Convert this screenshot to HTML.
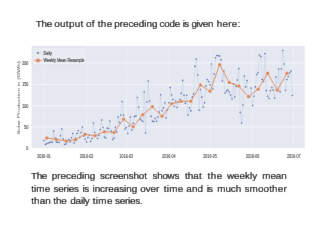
<!DOCTYPE html>
<html><head><meta charset="utf-8">
<style>
html,body{margin:0;padding:0;background:#fff;}
body{filter:url(#soft);width:320px;height:240px;overflow:hidden;position:relative;font-family:"Liberation Sans",sans-serif;color:#000;}
.t{position:absolute;left:0;width:320px;height:12px;white-space:nowrap;line-height:1;-webkit-text-stroke:0.2px #000;}
#title{top:18.6px;font-size:9.9px;}
.bl{font-size:9.9px;}
.w{position:absolute;top:0;transform-origin:0 0;}
svg{position:absolute;left:0;top:0;}
</style></head><body>
<svg width="0" height="0" style="position:absolute"><filter id="soft" x="0" y="0" width="100%" height="100%"><feConvolveMatrix order="3" kernelMatrix="0 1 0 1 12 1 0 1 0" divisor="16" edgeMode="duplicate"/></filter></svg>
<div class="t" id="title"><span class="w" style="left:35.80px;letter-spacing:-0.317px;transform:scaleX(1)">The</span><span class="w" style="left:54.20px;letter-spacing:0.335px;transform:scaleX(1)">output</span><span class="w" style="left:86.10px;letter-spacing:0.280px;transform:scaleX(1)">of</span><span class="w" style="left:97.70px;letter-spacing:0.417px;transform:scaleX(1)">the</span><span class="w" style="left:114.16px;letter-spacing:-0.015px;transform:scaleX(1)">preceding</span><span class="w" style="left:159.60px;letter-spacing:-0.264px;transform:scaleX(1)">code</span><span class="w" style="left:182.66px;letter-spacing:-0.587px;transform:scaleX(1)">is</span><span class="w" style="left:191.50px;letter-spacing:-0.418px;transform:scaleX(1)">given</span><span class="w" style="left:216.66px;letter-spacing:0.266px;transform:scaleX(1)">here:</span></div>
<svg width="320" height="240" viewBox="0 0 320 240">
<rect x="31.55" y="46" width="273.25" height="102.35" fill="#E5E8F1"/>
<g stroke="#fff" stroke-width="0.9" stroke-opacity="0.6"><line x1="31.55" y1="148.35" x2="304.8" y2="148.35"/><line x1="31.55" y1="127.02" x2="304.8" y2="127.02"/><line x1="31.55" y1="105.7" x2="304.8" y2="105.7"/><line x1="31.55" y1="84.38" x2="304.8" y2="84.38"/><line x1="31.55" y1="63.05" x2="304.8" y2="63.05"/><line x1="44" y1="46" x2="44" y2="148.35" stroke-opacity="0.35"/><line x1="86.54" y1="46" x2="86.54" y2="148.35" stroke-opacity="0.35"/><line x1="126.34" y1="46" x2="126.34" y2="148.35" stroke-opacity="0.35"/><line x1="168.88" y1="46" x2="168.88" y2="148.35" stroke-opacity="0.35"/><line x1="210.05" y1="46" x2="210.05" y2="148.35" stroke-opacity="0.35"/><line x1="252.59" y1="46" x2="252.59" y2="148.35" stroke-opacity="0.35"/><line x1="293.76" y1="46" x2="293.76" y2="148.35" stroke-opacity="0.35"/></g>
<path d="M44 140.5 L45.37 144.5 L46.74 143.8 L48.12 143 L49.49 142.5 L50.86 142.2 L52.23 142 L53.61 131 L54.98 138 L56.35 142 L57.72 142.2 L59.1 142.5 L60.47 135.8 L61.84 129 L63.21 139 L64.58 144.5 L65.96 144 L67.33 141.8 L68.7 139.5 L70.07 142 L71.45 137.8 L72.82 133.5 L74.19 143 L75.56 138.2 L76.94 133.5 L78.31 130.5 L79.68 137.5 L81.05 132.5 L82.42 127 L83.8 136 L85.17 139 L86.54 142 L87.91 137.5 L89.29 135 L90.66 141.5 L92.03 138.5 L93.4 123 L94.78 132.5 L96.15 135.5 L97.52 138.5 L98.89 135.5 L100.26 129.5 L101.64 120 L103.01 127.5 L104.38 137 L105.75 138 L107.13 128 L108.5 128.5 L109.87 121 L111.24 131 L112.62 139.5 L113.99 138 L115.36 127 L116.73 132 L118.1 117 L119.48 122.5 L120.85 115 L122.22 101.5 L123.59 115.2 L124.97 129 L126.34 127.5 L127.71 133.5 L129.08 126 L130.45 117 L131.83 130 L133.2 123.2 L134.57 116.5 L135.94 116 L137.32 97.5 L138.69 107 L140.06 119 L141.43 120.2 L142.81 121.5 L144.18 92 L145.55 133 L146.92 102 L148.29 81 L149.67 101 L151.04 116.4 L152.41 121.3 L153.78 121.6 L155.16 118.2 L156.53 121.2 L157.9 117.1 L159.27 112 L160.65 94.7 L162.02 110.7 L163.39 108 L164.76 102.7 L166.13 118 L167.51 110 L168.88 102.7 L170.25 87.6 L171.62 95 L173 99.5 L174.37 106.5 L175.74 101 L177.11 107.5 L178.49 102 L179.86 99.5 L181.23 93.4 L182.6 80.4 L183.97 95.2 L185.35 103.4 L186.72 95.2 L188.09 115 L189.46 107.8 L190.84 110.9 L192.21 97.1 L193.58 94 L194.95 66.4 L196.33 59 L197.7 75 L199.07 110.2 L200.44 89.6 L201.81 97.1 L203.19 107.1 L204.56 102.8 L205.93 85.9 L207.3 79.5 L208.68 81.5 L210.05 85 L211.42 64 L212.79 89 L214.17 74 L215.54 57.7 L216.91 55.5 L218.28 55.7 L219.65 56 L221.03 59.7 L222.4 81 L223.77 71 L225.14 93 L226.52 91 L227.89 90 L229.26 92 L230.63 95 L232.01 99 L233.38 83.7 L234.75 97 L236.12 86.4 L237.49 80 L238.87 68.5 L240.24 112.5 L241.61 123 L242.98 105 L244.36 76 L245.73 86.9 L247.1 80.6 L248.47 96 L249.84 97 L251.22 88.1 L252.59 105.6 L253.96 96.2 L255.33 86.9 L256.71 74.5 L258.08 72.5 L259.45 55 L260.82 56.5 L262.2 79.5 L263.57 81.5 L264.94 53.5 L266.31 90.6 L267.68 96.2 L269.06 98.5 L270.43 90.6 L271.8 87.5 L273.17 90 L274.55 98 L275.92 77 L277.29 89.8 L278.66 69 L280.04 92 L281.41 69 L282.78 50.5 L284.15 64 L285.52 90.5 L286.9 79.5 L288.27 76.5 L289.64 73 L291.01 71 L292.39 95.5" fill="none" stroke="#4C72B0" stroke-opacity="0.32" stroke-width="0.35"/>
<g fill="#4A66A2"><circle cx="44" cy="140.5" r="0.8"/><circle cx="45.37" cy="144.5" r="0.8"/><circle cx="46.74" cy="143.8" r="0.8"/><circle cx="48.12" cy="143" r="0.8"/><circle cx="49.49" cy="142.5" r="0.8"/><circle cx="50.86" cy="142.2" r="0.8"/><circle cx="52.23" cy="142" r="0.8"/><circle cx="53.61" cy="131" r="0.8"/><circle cx="54.98" cy="138" r="0.8"/><circle cx="56.35" cy="142" r="0.8"/><circle cx="57.72" cy="142.2" r="0.8"/><circle cx="59.1" cy="142.5" r="0.8"/><circle cx="60.47" cy="135.8" r="0.8"/><circle cx="61.84" cy="129" r="0.8"/><circle cx="63.21" cy="139" r="0.8"/><circle cx="64.58" cy="144.5" r="0.8"/><circle cx="65.96" cy="144" r="0.8"/><circle cx="67.33" cy="141.8" r="0.8"/><circle cx="68.7" cy="139.5" r="0.8"/><circle cx="70.07" cy="142" r="0.8"/><circle cx="71.45" cy="137.8" r="0.8"/><circle cx="72.82" cy="133.5" r="0.8"/><circle cx="74.19" cy="143" r="0.8"/><circle cx="75.56" cy="138.2" r="0.8"/><circle cx="76.94" cy="133.5" r="0.8"/><circle cx="78.31" cy="130.5" r="0.8"/><circle cx="79.68" cy="137.5" r="0.8"/><circle cx="81.05" cy="132.5" r="0.8"/><circle cx="82.42" cy="127" r="0.8"/><circle cx="83.8" cy="136" r="0.8"/><circle cx="85.17" cy="139" r="0.8"/><circle cx="86.54" cy="142" r="0.8"/><circle cx="87.91" cy="137.5" r="0.8"/><circle cx="89.29" cy="135" r="0.8"/><circle cx="90.66" cy="141.5" r="0.8"/><circle cx="92.03" cy="138.5" r="0.8"/><circle cx="93.4" cy="123" r="0.8"/><circle cx="94.78" cy="132.5" r="0.8"/><circle cx="96.15" cy="135.5" r="0.8"/><circle cx="97.52" cy="138.5" r="0.8"/><circle cx="98.89" cy="135.5" r="0.8"/><circle cx="100.26" cy="129.5" r="0.8"/><circle cx="101.64" cy="120" r="0.8"/><circle cx="103.01" cy="127.5" r="0.8"/><circle cx="104.38" cy="137" r="0.8"/><circle cx="105.75" cy="138" r="0.8"/><circle cx="107.13" cy="128" r="0.8"/><circle cx="108.5" cy="128.5" r="0.8"/><circle cx="109.87" cy="121" r="0.8"/><circle cx="111.24" cy="131" r="0.8"/><circle cx="112.62" cy="139.5" r="0.8"/><circle cx="113.99" cy="138" r="0.8"/><circle cx="115.36" cy="127" r="0.8"/><circle cx="116.73" cy="132" r="0.8"/><circle cx="118.1" cy="117" r="0.8"/><circle cx="119.48" cy="122.5" r="0.8"/><circle cx="120.85" cy="115" r="0.8"/><circle cx="122.22" cy="101.5" r="0.8"/><circle cx="123.59" cy="115.2" r="0.8"/><circle cx="124.97" cy="129" r="0.8"/><circle cx="126.34" cy="127.5" r="0.8"/><circle cx="127.71" cy="133.5" r="0.8"/><circle cx="129.08" cy="126" r="0.8"/><circle cx="130.45" cy="117" r="0.8"/><circle cx="131.83" cy="130" r="0.8"/><circle cx="133.2" cy="123.2" r="0.8"/><circle cx="134.57" cy="116.5" r="0.8"/><circle cx="135.94" cy="116" r="0.8"/><circle cx="137.32" cy="97.5" r="0.8"/><circle cx="138.69" cy="107" r="0.8"/><circle cx="140.06" cy="119" r="0.8"/><circle cx="141.43" cy="120.2" r="0.8"/><circle cx="142.81" cy="121.5" r="0.8"/><circle cx="144.18" cy="92" r="0.8"/><circle cx="145.55" cy="133" r="0.8"/><circle cx="146.92" cy="102" r="0.8"/><circle cx="148.29" cy="81" r="0.8"/><circle cx="149.67" cy="101" r="0.8"/><circle cx="151.04" cy="116.4" r="0.8"/><circle cx="152.41" cy="121.3" r="0.8"/><circle cx="153.78" cy="121.6" r="0.8"/><circle cx="155.16" cy="118.2" r="0.8"/><circle cx="156.53" cy="121.2" r="0.8"/><circle cx="157.9" cy="117.1" r="0.8"/><circle cx="159.27" cy="112" r="0.8"/><circle cx="160.65" cy="94.7" r="0.8"/><circle cx="162.02" cy="110.7" r="0.8"/><circle cx="163.39" cy="108" r="0.8"/><circle cx="164.76" cy="102.7" r="0.8"/><circle cx="166.13" cy="118" r="0.8"/><circle cx="167.51" cy="110" r="0.8"/><circle cx="168.88" cy="102.7" r="0.8"/><circle cx="170.25" cy="87.6" r="0.8"/><circle cx="171.62" cy="95" r="0.8"/><circle cx="173" cy="99.5" r="0.8"/><circle cx="174.37" cy="106.5" r="0.8"/><circle cx="175.74" cy="101" r="0.8"/><circle cx="177.11" cy="107.5" r="0.8"/><circle cx="178.49" cy="102" r="0.8"/><circle cx="179.86" cy="99.5" r="0.8"/><circle cx="181.23" cy="93.4" r="0.8"/><circle cx="182.6" cy="80.4" r="0.8"/><circle cx="183.97" cy="95.2" r="0.8"/><circle cx="185.35" cy="103.4" r="0.8"/><circle cx="186.72" cy="95.2" r="0.8"/><circle cx="188.09" cy="115" r="0.8"/><circle cx="189.46" cy="107.8" r="0.8"/><circle cx="190.84" cy="110.9" r="0.8"/><circle cx="192.21" cy="97.1" r="0.8"/><circle cx="193.58" cy="94" r="0.8"/><circle cx="194.95" cy="66.4" r="0.8"/><circle cx="196.33" cy="59" r="0.8"/><circle cx="197.7" cy="75" r="0.8"/><circle cx="199.07" cy="110.2" r="0.8"/><circle cx="200.44" cy="89.6" r="0.8"/><circle cx="201.81" cy="97.1" r="0.8"/><circle cx="203.19" cy="107.1" r="0.8"/><circle cx="204.56" cy="102.8" r="0.8"/><circle cx="205.93" cy="85.9" r="0.8"/><circle cx="207.3" cy="79.5" r="0.8"/><circle cx="208.68" cy="81.5" r="0.8"/><circle cx="210.05" cy="85" r="0.8"/><circle cx="211.42" cy="64" r="0.8"/><circle cx="212.79" cy="89" r="0.8"/><circle cx="214.17" cy="74" r="0.8"/><circle cx="215.54" cy="57.7" r="0.8"/><circle cx="216.91" cy="55.5" r="0.8"/><circle cx="218.28" cy="55.7" r="0.8"/><circle cx="219.65" cy="56" r="0.8"/><circle cx="221.03" cy="59.7" r="0.8"/><circle cx="222.4" cy="81" r="0.8"/><circle cx="223.77" cy="71" r="0.8"/><circle cx="225.14" cy="93" r="0.8"/><circle cx="226.52" cy="91" r="0.8"/><circle cx="227.89" cy="90" r="0.8"/><circle cx="229.26" cy="92" r="0.8"/><circle cx="230.63" cy="95" r="0.8"/><circle cx="232.01" cy="99" r="0.8"/><circle cx="233.38" cy="83.7" r="0.8"/><circle cx="234.75" cy="97" r="0.8"/><circle cx="236.12" cy="86.4" r="0.8"/><circle cx="237.49" cy="80" r="0.8"/><circle cx="238.87" cy="68.5" r="0.8"/><circle cx="240.24" cy="112.5" r="0.8"/><circle cx="241.61" cy="123" r="0.8"/><circle cx="242.98" cy="105" r="0.8"/><circle cx="244.36" cy="76" r="0.8"/><circle cx="245.73" cy="86.9" r="0.8"/><circle cx="247.1" cy="80.6" r="0.8"/><circle cx="248.47" cy="96" r="0.8"/><circle cx="249.84" cy="97" r="0.8"/><circle cx="251.22" cy="88.1" r="0.8"/><circle cx="252.59" cy="105.6" r="0.8"/><circle cx="253.96" cy="96.2" r="0.8"/><circle cx="255.33" cy="86.9" r="0.8"/><circle cx="256.71" cy="74.5" r="0.8"/><circle cx="258.08" cy="72.5" r="0.8"/><circle cx="259.45" cy="55" r="0.8"/><circle cx="260.82" cy="56.5" r="0.8"/><circle cx="262.2" cy="79.5" r="0.8"/><circle cx="263.57" cy="81.5" r="0.8"/><circle cx="264.94" cy="53.5" r="0.8"/><circle cx="266.31" cy="90.6" r="0.8"/><circle cx="267.68" cy="96.2" r="0.8"/><circle cx="269.06" cy="98.5" r="0.8"/><circle cx="270.43" cy="90.6" r="0.8"/><circle cx="271.8" cy="87.5" r="0.8"/><circle cx="273.17" cy="90" r="0.8"/><circle cx="274.55" cy="98" r="0.8"/><circle cx="275.92" cy="77" r="0.8"/><circle cx="277.29" cy="89.8" r="0.8"/><circle cx="278.66" cy="69" r="0.8"/><circle cx="280.04" cy="92" r="0.8"/><circle cx="281.41" cy="69" r="0.8"/><circle cx="282.78" cy="50.5" r="0.8"/><circle cx="284.15" cy="64" r="0.8"/><circle cx="285.52" cy="90.5" r="0.8"/><circle cx="286.9" cy="79.5" r="0.8"/><circle cx="288.27" cy="76.5" r="0.8"/><circle cx="289.64" cy="73" r="0.8"/><circle cx="291.01" cy="71" r="0.8"/><circle cx="292.39" cy="95.5" r="0.8"/></g>
<path d="M46.74 138.1 L56.35 139.4 L65.96 141 L75.56 139.7 L85.17 134.2 L94.78 135.8 L104.38 131.7 L113.99 132.5 L123.59 119.2 L133.2 126.7 L142.81 114.7 L152.41 106.7 L162.02 116.3 L171.62 103.8 L181.23 101.3 L190.84 101.3 L200.44 85 L210.05 91.3 L219.65 64.7 L229.26 82.5 L238.87 86 L248.47 96.7 L258.08 89.2 L267.68 73.3 L277.29 90.2 L286.9 73.3" fill="none" stroke="#DD8452" stroke-opacity="0.9" stroke-width="1.0"/>
<g fill="#DD8452" stroke="#fff" stroke-opacity="0.5" stroke-width="0.35"><circle cx="46.74" cy="138.1" r="1.75"/><circle cx="56.35" cy="139.4" r="1.75"/><circle cx="65.96" cy="141" r="1.75"/><circle cx="75.56" cy="139.7" r="1.75"/><circle cx="85.17" cy="134.2" r="1.75"/><circle cx="94.78" cy="135.8" r="1.75"/><circle cx="104.38" cy="131.7" r="1.75"/><circle cx="113.99" cy="132.5" r="1.75"/><circle cx="123.59" cy="119.2" r="1.75"/><circle cx="133.2" cy="126.7" r="1.75"/><circle cx="142.81" cy="114.7" r="1.75"/><circle cx="152.41" cy="106.7" r="1.75"/><circle cx="162.02" cy="116.3" r="1.75"/><circle cx="171.62" cy="103.8" r="1.75"/><circle cx="181.23" cy="101.3" r="1.75"/><circle cx="190.84" cy="101.3" r="1.75"/><circle cx="200.44" cy="85" r="1.75"/><circle cx="210.05" cy="91.3" r="1.75"/><circle cx="219.65" cy="64.7" r="1.75"/><circle cx="229.26" cy="82.5" r="1.75"/><circle cx="238.87" cy="86" r="1.75"/><circle cx="248.47" cy="96.7" r="1.75"/><circle cx="258.08" cy="89.2" r="1.75"/><circle cx="267.68" cy="73.3" r="1.75"/><circle cx="277.29" cy="90.2" r="1.75"/><circle cx="286.9" cy="73.3" r="1.75"/></g>
<rect x="32.4" y="47.5" width="54" height="16.8" rx="1" fill="#fff" fill-opacity="0.2" stroke="#d4d7e0" stroke-width="0.35"/>
<line x1="34.8" y1="52.9" x2="41.2" y2="52.9" stroke="#4C72B0" stroke-opacity="0.45" stroke-width="0.35"/>
<circle cx="38" cy="52.9" r="0.9" fill="#3F5A92"/>
<line x1="34" y1="60.5" x2="42" y2="60.5" stroke="#DD8452" stroke-opacity="0.9" stroke-width="0.85"/>
<circle cx="38" cy="60.5" r="1.9" fill="#DD8452"/>
<g font-family="Liberation Sans" font-size="5.1" fill="#3a3a3a" stroke="#3a3a3a" stroke-width="0.15">
<text x="43.6" y="54.8" textLength="8.4" lengthAdjust="spacingAndGlyphs">Daily</text>
<text x="43.6" y="62.4" textLength="40.8" lengthAdjust="spacingAndGlyphs">Weekly Mean Resample</text>
</g>
<g font-family="Liberation Sans" font-size="4.8" fill="#3a3a3a" stroke="#3a3a3a" stroke-width="0.12">
<text x="26.3" y="150.35" textLength="2.1" lengthAdjust="spacingAndGlyphs">0</text><text x="24.1" y="129.02" textLength="4.3" lengthAdjust="spacingAndGlyphs">50</text><text x="22.3" y="107.7" textLength="6.1" lengthAdjust="spacingAndGlyphs">100</text><text x="22.3" y="86.38" textLength="6.1" lengthAdjust="spacingAndGlyphs">150</text><text x="22.3" y="65.05" textLength="6.1" lengthAdjust="spacingAndGlyphs">200</text>
</g>
<g font-family="Liberation Sans" font-size="5.4" fill="#3a3a3a" stroke="#3a3a3a" stroke-width="0.12">
<text x="37.2" y="158" textLength="13.6" lengthAdjust="spacingAndGlyphs">2016-01</text><text x="79.74" y="158" textLength="13.6" lengthAdjust="spacingAndGlyphs">2016-02</text><text x="119.54" y="158" textLength="13.6" lengthAdjust="spacingAndGlyphs">2016-03</text><text x="162.08" y="158" textLength="13.6" lengthAdjust="spacingAndGlyphs">2016-04</text><text x="203.25" y="158" textLength="13.6" lengthAdjust="spacingAndGlyphs">2016-05</text><text x="245.79" y="158" textLength="13.6" lengthAdjust="spacingAndGlyphs">2016-06</text><text x="286.96" y="158" textLength="13.6" lengthAdjust="spacingAndGlyphs">2016-07</text>
</g>
<text transform="translate(20.1 97.85) rotate(-90)" text-anchor="middle" font-family="Liberation Sans" font-size="4.2" fill="#454545" textLength="73.5" lengthAdjust="spacingAndGlyphs">Solar Production in (GWh)</text>
</svg>
<div class="t bl" style="top:170.82px"><span class="w" style="left:31.05px;letter-spacing:-0.442px;transform:scaleX(1)">The</span><span class="w" style="left:51.81px;letter-spacing:0.003px;transform:scaleX(1)">preceding</span><span class="w" style="left:100.00px;letter-spacing:-0.157px;transform:scaleX(1)">screenshot</span><span class="w" style="left:152.60px;letter-spacing:-0.306px;transform:scaleX(1)">shows</span><span class="w" style="left:184.90px;letter-spacing:0.105px;transform:scaleX(1)">that</span><span class="w" style="left:207.60px;letter-spacing:0.467px;transform:scaleX(1)">the</span><span class="w" style="left:226.90px;letter-spacing:0.001px;transform:scaleX(1)">weekly</span><span class="w" style="left:262.21px;letter-spacing:-0.037px;transform:scaleX(1)">mean</span></div><div class="t bl" style="top:183.8px"><span class="w" style="left:31.15px;letter-spacing:0.111px;transform:scaleX(1)">time</span><span class="w" style="left:53.60px;letter-spacing:-0.208px;transform:scaleX(1)">series</span><span class="w" style="left:82.51px;letter-spacing:-0.337px;transform:scaleX(1)">is</span><span class="w" style="left:92.51px;letter-spacing:-0.040px;transform:scaleX(1)">increasing</span><span class="w" style="left:140.35px;letter-spacing:-0.120px;transform:scaleX(1)">over</span><span class="w" style="left:163.70px;letter-spacing:0.328px;transform:scaleX(1)">time</span><span class="w" style="left:186.35px;letter-spacing:0.103px;transform:scaleX(1)">and</span><span class="w" style="left:206.81px;letter-spacing:-1.037px;transform:scaleX(1)">is</span><span class="w" style="left:217.31px;letter-spacing:-0.089px;transform:scaleX(1)">much</span><span class="w" style="left:244.45px;letter-spacing:0.152px;transform:scaleX(1)">smoother</span></div><div class="t bl" style="top:196.2px"><span class="w" style="left:31.15px;letter-spacing:0.129px;transform:scaleX(1)">than</span><span class="w" style="left:53.30px;letter-spacing:-0.133px;transform:scaleX(1)">the</span><span class="w" style="left:70.35px;letter-spacing:-0.212px;transform:scaleX(1)">daily</span><span class="w" style="left:92.65px;letter-spacing:0.378px;transform:scaleX(1)">time</span><span class="w" style="left:114.95px;letter-spacing:-0.195px;transform:scaleX(1)">series.</span></div>
</body></html>
